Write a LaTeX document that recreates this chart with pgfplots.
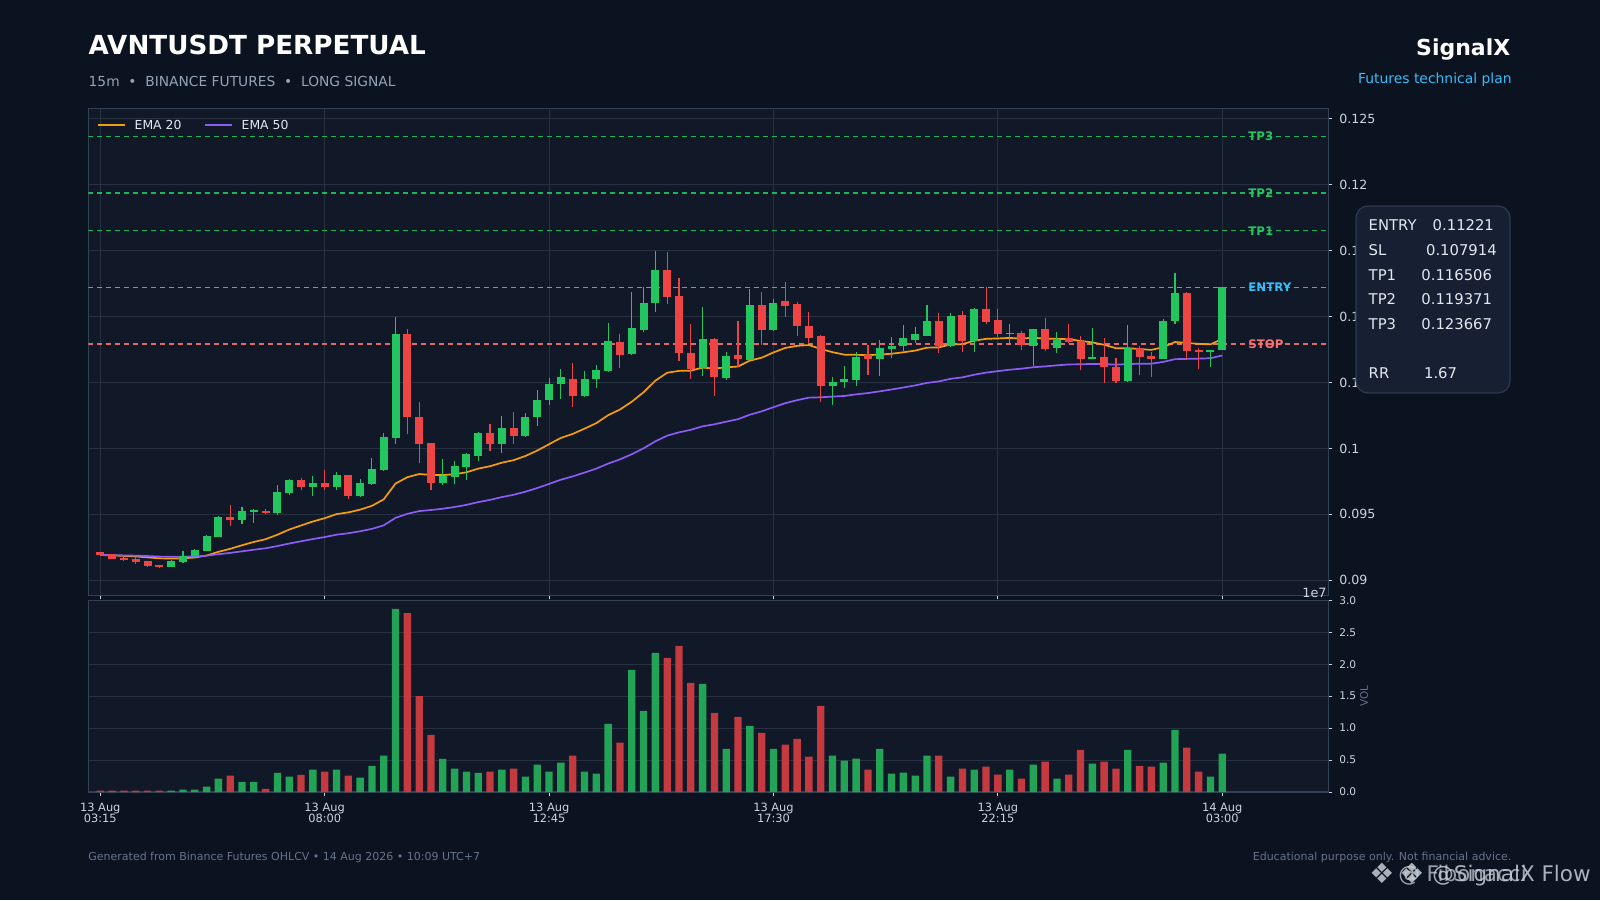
\documentclass[border=0pt]{standalone}
\usepackage{pgfplots}
\pgfplotsset{compat=1.18}
\usepackage{pgfplotstable}
\usepackage{fontspec}
\setmainfont{DejaVu Sans}

\definecolor{figbg}{HTML}{0B1220}
\definecolor{axbg}{HTML}{111827}
\definecolor{gridc}{HTML}{273142}
\definecolor{spinec}{HTML}{334155}
\definecolor{tickc}{HTML}{CBD5E1}
\definecolor{cup}{HTML}{22C55E}
\definecolor{cdn}{HTML}{EF4444}
\definecolor{vup}{HTML}{22A355}
\definecolor{vdn}{HTML}{C43A3F}
\definecolor{emaA}{HTML}{F59E0B}
\definecolor{emaB}{HTML}{8B5CF6}
\definecolor{entryc}{HTML}{38BDF8}
\definecolor{stopc}{HTML}{F87171}
\definecolor{subc}{HTML}{94A3B8}
\definecolor{footc}{HTML}{64748B}
\definecolor{boxbg}{HTML}{172033}
\definecolor{boxed}{HTML}{2E3A4E}
\definecolor{boxtx}{HTML}{E2E8F0}
\definecolor{wmc}{HTML}{C8CDD6}

\pgfplotstableread{
i o h l c v
6 0.09101 0.09157 0.09098 0.09144 0.02
7 0.09136 0.09225 0.09130 0.09187 0.036
8 0.09184 0.09240 0.09180 0.09227 0.036
9 0.09222 0.09340 0.09222 0.09333 0.083
10 0.09326 0.09487 0.09326 0.09477 0.208
12 0.09457 0.09556 0.09430 0.09523 0.16
13 0.09518 0.09543 0.09437 0.09533 0.16
15 0.09510 0.09725 0.09498 0.09667 0.30
16 0.09662 0.09770 0.09644 0.09758 0.24
18 0.09707 0.09790 0.09639 0.09735 0.35
20 0.09707 0.09820 0.09687 0.09795 0.35
22 0.09636 0.09770 0.09630 0.09735 0.224
23 0.09730 0.09929 0.09725 0.09841 0.41
24 0.09836 0.10119 0.09830 0.10083 0.57
25 0.10076 0.10995 0.10030 0.10871 2.865
29 0.09737 0.09920 0.09720 0.09788 0.52
30 0.09783 0.09907 0.09727 0.09869 0.365
31 0.09856 0.09967 0.09758 0.09955 0.318
32 0.09942 0.10126 0.09902 0.10114 0.30
34 0.10033 0.10245 0.09967 0.10152 0.35
36 0.10093 0.10268 0.10090 0.10242 0.24
37 0.10237 0.10442 0.10172 0.10371 0.427
38 0.10364 0.10533 0.10326 0.10492 0.318
39 0.10487 0.10600 0.10376 0.10538 0.458
41 0.10396 0.10586 0.10390 0.10530 0.318
42 0.10525 0.10631 0.10460 0.10591 0.286
43 0.10586 0.10952 0.10580 0.10818 1.068
45 0.10715 0.11184 0.10710 0.10917 1.911
46 0.10896 0.11227 0.10886 0.11106 1.271
47 0.11101 0.11495 0.11038 0.11354 2.177
51 0.10609 0.11071 0.10550 0.10833 1.693
53 0.10533 0.10730 0.10520 0.10702 0.677
55 0.10674 0.11212 0.10670 0.11091 1.036
57 0.10896 0.11136 0.10890 0.11106 0.677
62 0.10472 0.10543 0.10326 0.10505 0.568
63 0.10500 0.10624 0.10455 0.10530 0.49
64 0.10518 0.10730 0.10470 0.10697 0.521
66 0.10677 0.10823 0.10553 0.10758 0.677
67 0.10753 0.10843 0.10682 0.10778 0.286
68 0.10775 0.10934 0.10740 0.10838 0.302
69 0.10826 0.10919 0.10803 0.10864 0.255
70 0.10856 0.11086 0.10850 0.10970 0.568
72 0.10780 0.11028 0.10770 0.11008 0.24
74 0.10813 0.11066 0.10730 0.11061 0.349
77 0.10864 0.10941 0.10803 0.10879 0.349
79 0.10780 0.10909 0.10626 0.10902 0.427
81 0.10760 0.10881 0.10727 0.10826 0.208
84 0.10677 0.10914 0.10677 0.10697 0.443
87 0.10508 0.10934 0.10505 0.10763 0.661
90 0.10677 0.10980 0.10675 0.10970 0.458
91 0.10965 0.11331 0.10947 0.11182 0.974
94 0.10730 0.10750 0.10621 0.10750 0.24
95 0.10750 0.11221 0.10745 0.11221 0.599
}\up

\pgfplotstableread{
i o h l c v
0 0.09212 0.09218 0.09190 0.09192 0.02
1 0.09197 0.09200 0.09158 0.09162 0.02
2 0.09169 0.09184 0.09144 0.09152 0.02
3 0.09159 0.09177 0.09126 0.09139 0.02
4 0.09146 0.09150 0.09102 0.09106 0.02
5 0.09116 0.09120 0.09092 0.09098 0.02
11 0.09477 0.09573 0.09414 0.09455 0.255
14 0.09525 0.09543 0.09500 0.09510 0.05
17 0.09758 0.09778 0.09682 0.09707 0.27
19 0.09735 0.09838 0.09682 0.09707 0.32
21 0.09798 0.09800 0.09618 0.09636 0.255
26 0.10871 0.10907 0.10111 0.10235 2.80
27 0.10242 0.10354 0.09891 0.10033 1.50
28 0.10040 0.10040 0.09687 0.09737 0.896
33 0.10114 0.10189 0.09977 0.10033 0.318
35 0.10152 0.10275 0.10035 0.10093 0.365
40 0.10530 0.10649 0.10318 0.10396 0.568
44 0.10808 0.10869 0.10611 0.10707 0.771
48 0.11356 0.11490 0.11096 0.11146 2.099
49 0.11159 0.11290 0.10662 0.10722 2.286
50 0.10727 0.10942 0.10525 0.10606 1.708
52 0.10833 0.10840 0.10399 0.10540 1.240
54 0.10705 0.10967 0.10616 0.10677 1.177
56 0.11091 0.11187 0.10785 0.10896 0.927
58 0.11116 0.11263 0.10997 0.11083 0.740
59 0.11098 0.11111 0.10854 0.10927 0.833
60 0.10932 0.11035 0.10793 0.10841 0.552
61 0.10856 0.10860 0.10351 0.10472 1.349
65 0.10705 0.10785 0.10558 0.10677 0.349
71 0.10970 0.11028 0.10727 0.10780 0.568
73 0.11015 0.11045 0.10732 0.10811 0.365
75 0.11061 0.11227 0.10940 0.10962 0.396
76 0.10977 0.11056 0.10843 0.10864 0.271
78 0.10879 0.10894 0.10747 0.10788 0.208
80 0.10909 0.10990 0.10740 0.10753 0.474
82 0.10838 0.10944 0.10800 0.10806 0.271
83 0.10811 0.10854 0.10591 0.10677 0.661
85 0.10697 0.10838 0.10497 0.10616 0.474
86 0.10621 0.10687 0.10497 0.10508 0.365
88 0.10763 0.10773 0.10558 0.10692 0.411
89 0.10700 0.10732 0.10545 0.10677 0.396
92 0.11182 0.11185 0.10674 0.10737 0.693
93 0.10745 0.10763 0.10604 0.10730 0.318
}\dn

\pgfplotstableread{
i e20 e50
0 0.09192 0.09192
1 0.09189 0.09191
2 0.09185 0.09189
3 0.09181 0.09187
4 0.09174 0.09184
5 0.09167 0.09180
6 0.09165 0.09179
7 0.09167 0.09179
8 0.09173 0.09181
9 0.09188 0.09187
10 0.09216 0.09198
11 0.09239 0.09208
12 0.09266 0.09220
13 0.09291 0.09232
14 0.09312 0.09243
15 0.09346 0.09260
16 0.09385 0.09279
17 0.09416 0.09296
18 0.09446 0.09313
19 0.09471 0.09328
20 0.09502 0.09346
21 0.09515 0.09357
22 0.09536 0.09372
23 0.09565 0.09390
24 0.09614 0.09417
25 0.09734 0.09474
26 0.09782 0.09504
27 0.09806 0.09525
28 0.09799 0.09533
29 0.09798 0.09543
30 0.09805 0.09556
31 0.09819 0.09572
32 0.09847 0.09593
33 0.09865 0.09610
34 0.09892 0.09631
35 0.09911 0.09649
36 0.09943 0.09672
37 0.09984 0.09700
38 0.10032 0.09731
39 0.10080 0.09763
40 0.10110 0.09788
41 0.10150 0.09817
42 0.10192 0.09847
43 0.10252 0.09885
44 0.10295 0.09917
45 0.10354 0.09956
46 0.10426 0.10001
47 0.10514 0.10054
48 0.10574 0.10097
49 0.10588 0.10122
50 0.10590 0.10141
51 0.10613 0.10168
52 0.10606 0.10183
53 0.10615 0.10203
54 0.10621 0.10222
55 0.10666 0.10256
56 0.10688 0.10281
57 0.10728 0.10313
58 0.10762 0.10343
59 0.10778 0.10366
60 0.10784 0.10385
61 0.10754 0.10388
62 0.10730 0.10393
63 0.10711 0.10398
64 0.10710 0.10410
65 0.10707 0.10420
66 0.10712 0.10433
67 0.10718 0.10447
68 0.10729 0.10462
69 0.10742 0.10478
70 0.10764 0.10497
71 0.10766 0.10508
72 0.10789 0.10528
73 0.10791 0.10539
74 0.10817 0.10559
75 0.10831 0.10575
76 0.10834 0.10586
77 0.10838 0.10597
78 0.10833 0.10605
79 0.10840 0.10616
80 0.10832 0.10622
81 0.10831 0.10630
82 0.10829 0.10637
83 0.10815 0.10638
84 0.10804 0.10641
85 0.10786 0.10640
86 0.10760 0.10635
87 0.10760 0.10640
88 0.10754 0.10642
89 0.10747 0.10643
90 0.10768 0.10656
91 0.10807 0.10677
92 0.10800 0.10679
93 0.10793 0.10681
94 0.10789 0.10684
95 0.10830 0.10705
}\ema

\pgfplotsset{
  chartbase/.style={
    scale only axis, width=620pt,
    xmin=-1.016, xmax=103.98,
    axis background/.style={fill=axbg},
    axis line style={spinec, line width=0.6pt},
    major tick style={tickc, line width=0.5pt},
    tick align=outside, major tick length=2pt,
    grid style={gridc, line width=0.5pt},
    xtick={0,19,38,57,76,95},
    xtick pos=bottom, ytick pos=right, yticklabel pos=right,
  },
}
\tikzset{
  lvl/.style={line width=0.75pt, dash pattern=on 2.3pt off 2.2pt, opacity=0.9},
  lvllab/.style={anchor=west, inner sep=0pt, font=\bfseries\fontsize{5.9}{6}\selectfont},
}

\begin{document}
\begin{tikzpicture}
\fill[figbg] (0,0) rectangle (800pt,-450pt);
\path[use as bounding box] (0,0) rectangle (800pt,-450pt);

% ---------- price panel ----------
\begin{axis}[chartbase,
  at={(44.15pt,-297.65pt)}, anchor=south west, height=243.5pt,
  ymin=0.088864, ymax=0.12579,
  xticklabels={},
  xmajorgrids, ymajorgrids,
  ytick={0.09,0.095,0.1,0.105,0.11,0.115,0.12,0.125},
  yticklabels={0.09,0.095,0.1,0.105,0.11,0.115,0.12,0.125},
  yticklabel style={font=\fontsize{6.3}{7}\selectfont, text=tickc},
]
\node[lvllab, text=cup] at (axis cs:97.18,0.123667) {TP3};
\node[lvllab, text=cup] at (axis cs:97.18,0.119371) {TP2};
\node[lvllab, text=cup] at (axis cs:97.18,0.116506) {TP1};
\node[lvllab, text=entryc] at (axis cs:97.18,0.11221) {ENTRY};
\node[lvllab, text=stopc] at (axis cs:97.18,0.107914) {STOP};
\addplot[lvl, cup] coordinates {(-1.016,0.123667) (103.98,0.123667)};
\addplot[lvl, cup] coordinates {(-1.016,0.119371) (103.98,0.119371)};
\addplot[lvl, cup] coordinates {(-1.016,0.116506) (103.98,0.116506)};
\addplot[lvl, entryc] coordinates {(-1.016,0.11221) (103.98,0.11221)};
\addplot[lvl, stopc] coordinates {(-1.016,0.107914) (103.98,0.107914)};
\addplot[emaA, line width=0.85pt] table[x=i, y=e20] {\ema};
\addplot[emaB, line width=0.85pt] table[x=i, y=e50] {\ema};
\addplot[cup, line width=0.55pt, quiver={u=0, v=\thisrow{h}-\thisrow{l}}] table[x=i, y=l] {\up};
\addplot[cdn, line width=0.55pt, quiver={u=0, v=\thisrow{h}-\thisrow{l}}] table[x=i, y=l] {\dn};
\addplot[cup, line width=4pt, quiver={u=0, v=\thisrow{c}-\thisrow{o}}] table[x=i, y=o] {\up};
\addplot[cdn, line width=4pt, quiver={u=0, v=\thisrow{c}-\thisrow{o}}] table[x=i, y=o] {\dn};
\end{axis}

% ---------- volume panel ----------
\begin{axis}[chartbase,
  at={(44.15pt,-396pt)}, anchor=south west, height=95.85pt,
  ymin=0, ymax=3,
  ymajorgrids,
  ytick={0,0.5,1,1.5,2,2.5,3},
  yticklabels={0.0,0.5,1.0,1.5,2.0,2.5,3.0},
  yticklabel style={font=\fontsize{5.3}{6}\selectfont, text=tickc},
  xticklabels={{13 Aug\\03:15},{13 Aug\\08:00},{13 Aug\\12:45},{13 Aug\\17:30},{13 Aug\\22:15},{14 Aug\\03:00}},
  xticklabel style={font=\fontsize{5.7}{5.6}\selectfont, text=tickc, align=center},
]
\addplot[ybar, bar width=0.62, bar shift=0pt, fill=vup, draw=none] table[x=i, y=v] {\up};
\addplot[ybar, bar width=0.62, bar shift=0pt, fill=vdn, draw=none] table[x=i, y=v] {\dn};
\end{axis}

% ---------- annotations (pixel units) ----------
\begin{scope}[x=0.5pt, y=-0.5pt]
\node[anchor=base west, inner sep=0pt, text=white, font=\bfseries\fontsize{13.1}{16}\selectfont] at (88.3,54) {AVNTUSDT PERPETUAL};
\node[anchor=base west, inner sep=0pt, text=subc, font=\fontsize{6.9}{9}\selectfont] at (88.3,86.3) {15m\ \ •\ \ BINANCE FUTURES\ \ •\ \ LONG SIGNAL};
\node[anchor=base east, inner sep=0pt, text=white, font=\bfseries\fontsize{11}{13}\selectfont] at (1510.7,55) {SignalX};
\node[anchor=base east, inner sep=0pt, text=entryc, font=\fontsize{6.95}{9}\selectfont] at (1512,83.3) {Futures technical plan};

% legend
\draw[emaA, line width=0.85pt] (98.3,124.7) -- (124.5,124.7);
\node[anchor=base west, inner sep=0pt, text=boxtx, font=\fontsize{6.2}{7}\selectfont] at (134.3,129.3) {EMA 20};
\draw[emaB, line width=0.85pt] (205.3,124.7) -- (231.7,124.7);
\node[anchor=base west, inner sep=0pt, text=boxtx, font=\fontsize{6.2}{7}\selectfont] at (241.3,129.3) {EMA 50};

% info box
\draw[fill=boxbg, draw=boxed, line width=0.6pt, rounded corners=6pt] (1356,206) rectangle (1510,393);
\begin{scope}[every node/.style={anchor=base west, inner sep=0pt, text=boxtx, font=\fontsize{7.4}{9}\selectfont}]
\node at (1368.3,230.7) {ENTRY}; \node at (1432.3,230.7) {0.11221};
\node at (1368.3,255.7) {SL};    \node at (1425.7,255.7) {0.107914};
\node at (1368.3,280.2) {TP1};   \node at (1421,280.2) {0.116506};
\node at (1368.3,304.7) {TP2};   \node at (1421,304.7) {0.119371};
\node at (1368.3,329.3) {TP3};   \node at (1421,329.3) {0.123667};
\node at (1368.3,378.3) {RR};    \node at (1423.7,378.3) {1.67};
\end{scope}

% volume extras
\node[anchor=base east, inner sep=0pt, text=tickc, font=\fontsize{6.4}{7}\selectfont] at (1327,597) {1e7};
\node[rotate=90, inner sep=0pt, text=footc, font=\fontsize{5.2}{6}\selectfont] at (1364,696) {VOL};

% footer
\node[anchor=base west, inner sep=0pt, text=footc, font=\fontsize{5.5}{6.5}\selectfont] at (88,860.7) {Generated from Binance Futures OHLCV • 14 Aug 2026 • 10:09 UTC+7};
\node[anchor=base east, inner sep=0pt, text=footc, font=\fontsize{5.5}{6.5}\selectfont] at (1511.7,860.7) {Educational purpose only. Not financial advice.};

% watermark
\node[inner sep=0pt, text=wmc, opacity=0.85, font=\fontsize{14}{15}\selectfont] at (1382,873) {❖};
\node[inner sep=0pt, text=wmc, opacity=0.85, font=\fontsize{14}{15}\selectfont] at (1412,873) {❖};
\node[anchor=base west, inner sep=0pt, text=wmc, opacity=0.75, font=\fontsize{10.75}{12}\selectfont] at (1398,881.7) {@ Fibonacci};
\node[anchor=base east, inner sep=0pt, text=wmc, opacity=0.85, font=\fontsize{10.75}{12}\selectfont] at (1591,881.7) {@SignalX Flow};
\end{scope}
\end{tikzpicture}
\end{document}
